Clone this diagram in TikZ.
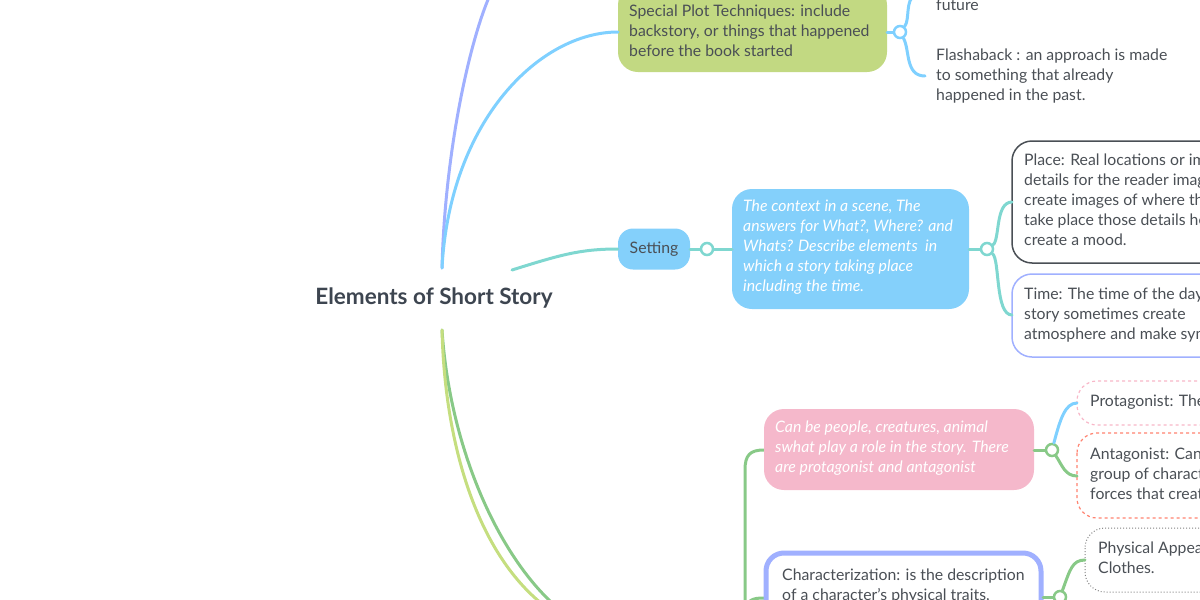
\documentclass[tikz,border=0pt]{standalone}
\usepackage{fontspec}
\setmainfont{Lato}
\usetikzlibrary{positioning}
\definecolor{txt}{HTML}{4A4F55}
\definecolor{dark}{HTML}{3D4550}
\definecolor{cblue}{HTML}{7FD0FF}
\definecolor{cteal}{HTML}{7FD7D0}
\definecolor{cgreen}{HTML}{88C987}
\definecolor{cyg}{HTML}{C5DE7F}
\definecolor{cpurp}{HTML}{A0B0FF}
\definecolor{gbox}{HTML}{C2D982}
\definecolor{bbox}{HTML}{84D0FB}
\definecolor{pbox}{HTML}{F5B8CB}
\definecolor{cred}{HTML}{FF8370}
\definecolor{cpink}{HTML}{F8B7C8}
\tikzset{
 lbl/.style={anchor=north west,inner sep=0pt,text=txt,font=\fontsize{15.8}{20}\selectfont,align=left},
 hand/.style={anchor=north west,inner sep=0pt,text=white,font=\fontsize{15.8}{20}\selectfont\itshape,align=left},
 conn/.style={line width=3pt,line cap=round},
 knob/.style={circle,draw,line width=2.5pt,fill=white,minimum size=12pt,inner sep=0pt},
}
\begin{document}
\begin{tikzpicture}[x=1pt,y=-1pt]
\useasboundingbox (0,0) rectangle (1200,600);
\clip (0,0) rectangle (1200,600);
% center
\node (c) at (434,298) {\fontsize{22.5}{26}\selectfont\bfseries\color{dark}Elements of Short Story};
\coordinate (ct) at (442,268);
\coordinate (cb) at (442,330);
% main branches
\coordinate (topend) at (490,-5);
\draw[conn,cpurp] (ct) .. controls (445,150) and (470,40) .. (topend);
% special plot
\fill[gbox,rounded corners=20pt] (618,-15) rectangle (887,72);
\node (sp) [lbl] at (629,5) {Special Plot Techniques: include\\backstory, or things that happened\\before the book started};
\draw[conn,cblue] (ct) .. controls (450,120) and (540,32) .. (618,32);
\node (k1) [knob,draw=cblue] at (900,32) {};
\draw[conn,cblue] (887,32) -- (k1);
\draw[conn,cblue] (k1) .. controls (910,20) and (905,0) .. (915,-5);
\draw[conn,cblue] (k1) .. controls (910,50) and (905,76) .. (925,76);
\node (fu) [lbl] at (936,-1) {future};
\node (fl) [lbl] at (936,49) {Flashaback : an approach is made\\to something that already\\happened in the past.};
% setting
\node (set) [fill=bbox,rounded corners=15pt,minimum height=41pt,minimum width=72pt,text=txt,font=\fontsize{15.8}{20}\selectfont] at (654,249) {Setting};
\draw[conn,cteal] (512,270) .. controls (560,255) and (580,249) .. (set.west);
\node (k2) [knob,draw=cteal] at (707,249) {};
\draw[conn,cteal] (set.east) -- (k2);
\fill[bbox,rounded corners=20pt] (732,189) rectangle (969,309);
\node (ctx) [hand] at (743,200) {The context in a scene, The\\answers for What?, Where? and\\Whats? Describe elements\ \ in\\which a story taking place\\including the time.};
\draw[conn,cteal] (k2) -- (732,249);
\node (k3) [knob,draw=cteal] at (987,249) {};
\draw[conn,cteal] (969,249) -- (k3);
\draw[line width=1.5pt,draw=txt,rounded corners=20pt] (1012,141) rectangle (1230,263);
\node (pl) [lbl] at (1024,154) {Place: Real locations or imaginary\\details for the reader imagination\\create images of where the story\\take place those details help\\create a mood.};
\draw[line width=1.5pt,draw=cpurp,rounded corners=20pt] (1012,274) rectangle (1230,357);
\node (ti) [lbl] at (1024,288) {Time: The time of the day\\story sometimes create\\atmosphere and make symbolism};
\draw[conn,cteal] (k3) .. controls (1000,240) and (995,202) .. (1012,202);
\draw[conn,cteal] (k3) .. controls (1000,260) and (995,315) .. (1012,315);
% lower branches
\draw[conn,cgreen] (cb) .. controls (450,450) and (500,560) .. (560,610);
\draw[conn,cyg] (cb) .. controls (445,450) and (480,560) .. (550,610);
\draw[conn,cgreen] (745,610) -- (745,470) .. controls (745,455) and (750,450) .. (764,450);
\draw[conn,cgreen] (745,610) .. controls (748,600) and (752,598) .. (764,598);
% characters
\fill[pbox,rounded corners=20pt] (764,409) rectangle (1034,490);
\node (chr) [hand] at (775,421) {Can be people, creatures, animal\\swhat play a role in the story. There\\are protagonist and antagonist};
\node (k4) [knob,draw=cgreen] at (1052,450) {};
\draw[conn,cgreen] (1034,450) -- (k4);
\draw[line width=1.2pt,draw=cpink,dashed,rounded corners=20pt] (1077,381) rectangle (1230,425);
\node (pro) [lbl] at (1090,395) {Protagonist: The main character};
\draw[line width=1.2pt,draw=cred,dashed,rounded corners=20pt] (1077,433) rectangle (1230,518);
\node (ant) [lbl] at (1090,448) {Antagonist: Can be a character or\\group of characters or\\forces that create conflict};
\draw[conn,cblue] (k4) .. controls (1060,420) and (1065,403) .. (1077,403);
\draw[conn,cgreen] (k4) .. controls (1062,465) and (1065,476) .. (1077,476);
% characterization
\draw[line width=5pt,draw=cpurp,fill=white,rounded corners=18pt] (766,553) rectangle (1041,640);
\node (chz) [lbl] at (782,569) {Characterization: is the description\\of a character's physical traits,};
\node (k5) [knob,draw=cgreen] at (1060,597) {};
\draw[conn,cgreen] (1043,597) -- (k5);
\draw[line width=1pt,draw=gray,dotted,rounded corners=20pt] (1085,528) rectangle (1230,592);
\node (phy) [lbl] at (1098,542) {Physical Appearance: Face, Body,\\Clothes.};
\draw[conn,cgreen] (k5) .. controls (1070,570) and (1072,560) .. (1085,560);
\end{tikzpicture}
\end{document}
